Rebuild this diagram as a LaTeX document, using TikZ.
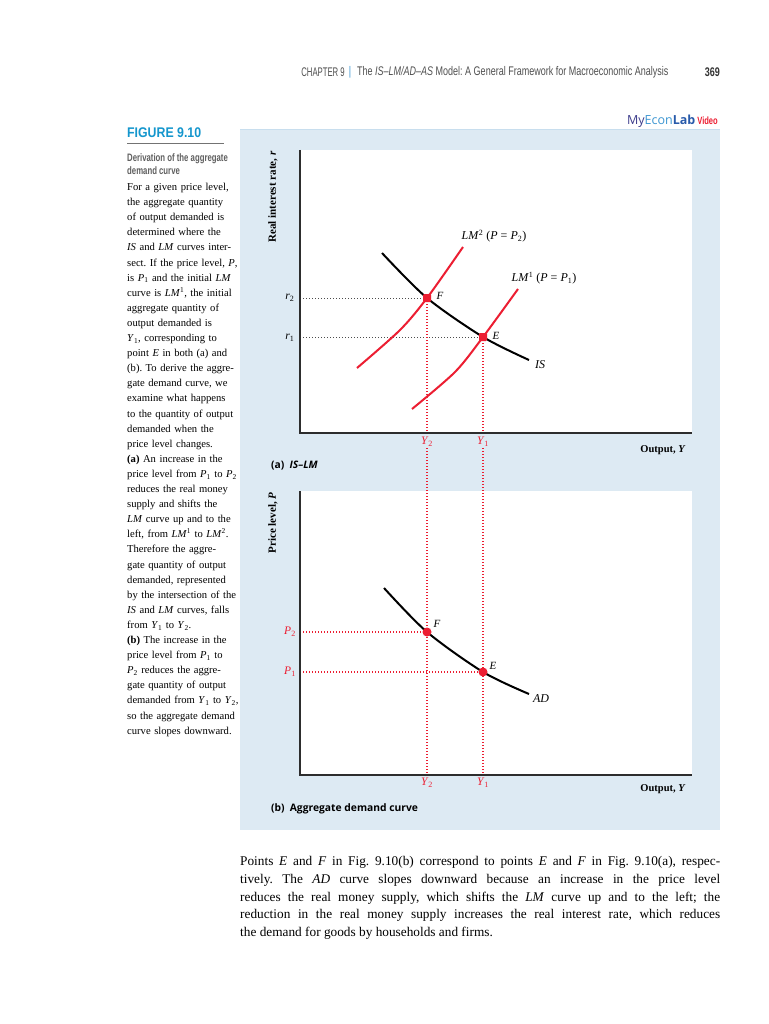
\documentclass[tikz,border=0pt]{standalone}
\usepackage{fontspec}
\setmainfont{Liberation Serif}
\newfontfamily\condfont[FakeStretch=0.72]{Liberation Sans}
\newfontfamily\chapfont[FakeStretch=0.62]{Liberation Sans}
\newfontfamily\titlefont[FakeStretch=0.72]{Liberation Sans}
\newfontfamily\figfont[FakeStretch=0.88]{Liberation Sans}
\newfontfamily\labsans{Open Sans}
\definecolor{panelblue}{RGB}{221,234,243}
\definecolor{panelline}{RGB}{200,222,238}
\definecolor{ered}{RGB}{236,30,50}
\definecolor{figteal}{RGB}{20,150,205}
\definecolor{hdrgrey}{RGB}{80,80,80}
\definecolor{titlegrey}{RGB}{95,95,95}
\definecolor{axisgrey}{RGB}{45,45,45}
\definecolor{mypurple}{RGB}{60,60,140}
\definecolor{myblue}{RGB}{60,150,210}
\definecolor{labblue}{RGB}{40,90,170}
\newcommand{\sbs}[1]{\textsubscript{#1}}
\newcommand{\sps}[1]{\textsuperscript{#1}}
\frenchspacing
\begin{document}
\begin{tikzpicture}[x=1pt,y=-1pt,
  axisline/.style={draw=axisgrey, line width=1.5pt},
  blackcurve/.style={draw=black, line width=2pt},
  redcurve/.style={draw=ered, line width=2pt},
  dotgrey/.style={draw=black!70, line width=1pt, dash pattern=on 1pt off 2pt},
  dotred/.style={draw=ered, line width=1.1pt, dash pattern=on 1pt off 2pt},
  sqmark/.style={fill=ered, minimum size=8pt, inner sep=0pt, rounded corners=1.2pt},
  dotmark/.style={circle, fill=ered, minimum size=9pt, inner sep=0pt},
  ptlabel/.style={font=\fontsize{11}{12}\selectfont\itshape, inner sep=0pt},
  curvelabel/.style={font=\fontsize{12}{13}\selectfont, inner sep=0pt},
  ticklabel/.style={font=\fontsize{11.5}{13}\selectfont, inner sep=0pt},
  redtick/.style={ticklabel, text=ered, fill=panelblue, inner sep=1pt},
  axislabel/.style={font=\fontsize{10.5}{12}\selectfont\bfseries, inner sep=0pt},
  ylabel/.style={font=\fontsize{11}{13}\selectfont\bfseries, rotate=90, inner sep=0pt},
  panellabel/.style={font=\labsans\bfseries\fontsize{10.3}{12}\selectfont, inner sep=0pt, anchor=west}
]
\useasboundingbox (0,0) rectangle (768,1024);
\fill[white] (0,0) rectangle (768,1024);

% header
\node[anchor=east, inner sep=0pt, text=hdrgrey, font=\chapfont\fontsize{12.5}{13}\selectfont] (chap) at (345,72) {CHAPTER 9};
\node[inner sep=0pt, text=myblue, font=\condfont\fontsize{12.5}{13}\selectfont] (bar) at (350,72) {|};
\node[anchor=west, inner sep=0pt, text=hdrgrey, font=\condfont\fontsize{12.5}{13}\selectfont] (htitle) at (357,72) {The \textit{IS–LM/AD–AS} Model: A General Framework for Macroeconomic Analysis};
\node[anchor=east, inner sep=0pt, text=black!80, font=\condfont\bfseries\fontsize{12.5}{13}\selectfont] (pageno) at (720,72) {369};
\node[anchor=east, inner sep=0pt, font=\labsans\fontsize{12.5}{14}\selectfont] (mel) at (718,121) {{\color{mypurple}My}{\color{myblue}Econ}{\color{labblue}\bfseries Lab}\,{\condfont\bfseries\color{ered}\fontsize{10.5}{12}\selectfont Video}};

% sidebar
\node[anchor=west, inner sep=0pt, text=figteal, font=\figfont\bfseries\fontsize{14}{16}\selectfont] (fig) at (127,133) {FIGURE 9.10};
\draw[black!55, line width=1.2pt] (127,143.5) -- (224,143.5);
\node[anchor=north west, inner sep=0pt, align=left, text=titlegrey, font=\titlefont\bfseries\fontsize{10.8}{13}\selectfont] (ftitle) at (127,153.5) {Derivation of the aggregate\\demand curve};
\node[anchor=north west, inner sep=0pt, align=left, text width=130pt, font=\fontsize{10.6}{15.1}\selectfont] (side) at (127,183) {For a given price level,\\
the aggregate quantity\\
of output demanded is\\
determined where the\\
\textit{IS} and \textit{LM} curves inter-\\
sect. If the price level, \textit{P},\\
is \textit{P}\sbs{1} and the initial \textit{LM}\\
curve is \textit{LM}\sps{1}, the initial\\
aggregate quantity of\\
output demanded is\\
\textit{Y}\sbs{1}, corresponding to\\
point \textit{E} in both (a) and\\
(b). To derive the aggre-\\
gate demand curve, we\\
examine what happens\\
to the quantity of output\\
demanded when the\\
price level changes.\\
\textbf{(a)} An increase in the\\
price level from \textit{P}\sbs{1} to \textit{P}\sbs{2}\\
reduces the real money\\
supply and shifts the\\
\textit{LM} curve up and to the\\
left, from \textit{LM}\sps{1} to \textit{LM}\sps{2}.\\
Therefore the aggre-\\
gate quantity of output\\
demanded, represented\\
by the intersection of the\\
\textit{IS} and \textit{LM} curves, falls\\
from \textit{Y}\sbs{1} to \textit{Y}\sbs{2}.\\
\textbf{(b)} The increase in the\\
price level from \textit{P}\sbs{1} to\\
\textit{P}\sbs{2} reduces the aggre-\\
gate quantity of output\\
demanded from \textit{Y}\sbs{1} to \textit{Y}\sbs{2},\\
so the aggregate demand\\
curve slopes downward.};

% panel
\fill[panelblue] (240,129) rectangle (720,830);
\draw[panelline, line width=1pt] (240,129.5) -- (720,129.5);
\fill[white] (300,150) rectangle (692,433);
\fill[white] (300,491) rectangle (692,775);

% key coordinates
\coordinate (F1) at (427,298);
\coordinate (E1) at (483,337);
\coordinate (F2) at (427,632);
\coordinate (E2) at (483,672);
\coordinate (r2ax) at (300,298);
\coordinate (r1ax) at (300,337);
\coordinate (P2ax) at (300,632);
\coordinate (P1ax) at (300,672);
\coordinate (Y2b) at (427,775);
\coordinate (Y1b) at (483,775);

% dotted guides
\draw[dotgrey] (r2ax) -- (F1);
\draw[dotgrey] (r1ax) -- (E1);
\draw[dotred] (P2ax) -- (F2);
\draw[dotred] (P1ax) -- (E2);
\draw[dotred] (F1) -- (Y2b);
\draw[dotred] (E1) -- (Y1b);

% curves (a)
\draw[blackcurve] plot[smooth] coordinates {(382,253) (427,298) (483,337) (529,360)};
\draw[redcurve] plot[smooth] coordinates {(357,368) (400,330) (427,298) (463,247)};
\draw[redcurve] plot[smooth] coordinates {(412,409) (455,372) (483,337) (518,289)};
% curve (b)
\draw[blackcurve] plot[smooth] coordinates {(384,588) (427,632) (483,672) (529,694)};

% axes
\draw[axisline] (300,150) -- (300,433) -- (692,433);
\draw[axisline] (300,491) -- (300,775) -- (692,775);

% markers
\node[sqmark] (mF1) at (F1) {};
\node[sqmark] (mE1) at (E1) {};
\node[dotmark] (mF2) at (F2) {};
\node[dotmark] (mE2) at (E2) {};

% labels (a)
\node[ptlabel] (lF1) at (440,296) {F};
\node[ptlabel] (lE1) at (496,336) {E};
\node[curvelabel] (lIS) at (540,365) {\textit{IS}};
\node[curvelabel] (lLM2) at (494,236) {\textit{LM}\sps{2} (\textit{P} = \textit{P}\sbs{2})};
\node[curvelabel] (lLM1) at (544,278) {\textit{LM}\sps{1} (\textit{P} = \textit{P}\sbs{1})};
\node[ticklabel] (lr2) at (290,298) {\textit{r}\sbs{2}};
\node[ticklabel] (lr1) at (290,338) {\textit{r}\sbs{1}};
\node[redtick] (lY2a) at (427,442) {\textit{Y}\sbs{2}};
\node[redtick] (lY1a) at (483,442) {\textit{Y}\sbs{1}};
\node[axislabel] (outa) at (663,450) {Output, \textit{Y}};
\node[ylabel] (ra) at (273,197) {Real interest rate, \textit{r}};
\node[panellabel] (pa) at (271,466) {(a)\enspace\textit{IS–LM}};

% labels (b)
\node[ptlabel] (lF2) at (437,624) {F};
\node[ptlabel] (lE2) at (493,666) {E};
\node[curvelabel] (lAD) at (541,699) {\textit{AD}};
\node[ticklabel, text=ered] (lP2) at (290,632) {\textit{P}\sbs{2}};
\node[ticklabel, text=ered] (lP1) at (290,672) {\textit{P}\sbs{1}};
\node[redtick] (lY2b) at (427,783) {\textit{Y}\sbs{2}};
\node[redtick] (lY1b) at (483,783) {\textit{Y}\sbs{1}};
\node[axislabel] (outb) at (663,789) {Output, \textit{Y}};
\node[ylabel] (pb) at (273,523) {Price level, \textit{P}};
\node[panellabel] (pbl) at (271,809) {(b)\enspace Aggregate demand curve};

% bottom paragraph
\node[anchor=north west, inner sep=0pt, align=left, font=\fontsize{13.3}{17.8}\selectfont] (para) at (240,856) {%
\makebox[480pt][s]{Points \textit{E} and \textit{F} in Fig. 9.10(b) correspond to points \textit{E} and \textit{F} in Fig. 9.10(a), respec-}\\
\makebox[480pt][s]{tively. The \textit{AD} curve slopes downward because an increase in the price level}\\
\makebox[480pt][s]{reduces the real money supply, which shifts the \textit{LM} curve up and to the left; the}\\
\makebox[480pt][s]{reduction in the real money supply increases the real interest rate, which reduces}\\
the demand for goods by households and firms.};
\end{tikzpicture}
\end{document}
